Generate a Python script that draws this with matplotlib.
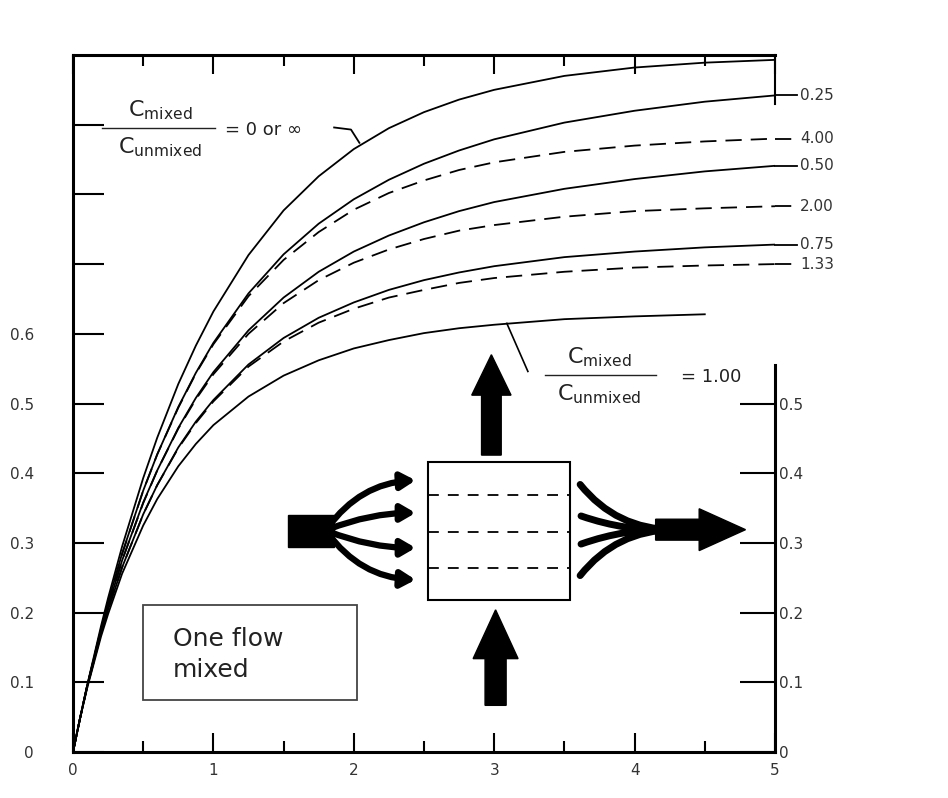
import numpy as np
import matplotlib.pyplot as plt
from matplotlib.patches import Rectangle, FancyArrow, FancyArrowPatch

# NTU values along x, effectiveness for each curve
ntu = [0, 0.05, 0.1, 0.2, 0.25, 0.35, 0.5, 0.6, 0.75, 0.875, 1.0, 1.25, 1.5, 1.75,
       2.0, 2.25, 2.5, 2.75, 3.0, 3.5, 4.0, 4.5, 5.0]
eff_0 = [0, 0.049, 0.095, 0.181, 0.221, 0.295, 0.393, 0.451, 0.528, 0.583, 0.632, 0.713,
         0.777, 0.826, 0.865, 0.895, 0.918, 0.936, 0.950, 0.970, 0.982, 0.989, 0.993]
eff_025 = [0, 0.048, 0.094, 0.177, 0.215, 0.285, 0.375, 0.427, 0.495, 0.544, 0.587, 0.658,
           0.714, 0.758, 0.793, 0.821, 0.844, 0.863, 0.879, 0.903, 0.920, 0.933, 0.942]
eff_400 = [0, 0.048, 0.094, 0.177, 0.215, 0.284, 0.375, 0.427, 0.494, 0.543, 0.585, 0.654,
           0.706, 0.746, 0.778, 0.802, 0.820, 0.835, 0.846, 0.861, 0.870, 0.876, 0.880]
eff_050 = [0, 0.048, 0.094, 0.173, 0.209, 0.275, 0.358, 0.404, 0.465, 0.508, 0.545, 0.605,
           0.652, 0.689, 0.718, 0.741, 0.760, 0.776, 0.789, 0.808, 0.822, 0.833, 0.841]
eff_200 = [0, 0.048, 0.094, 0.173, 0.209, 0.275, 0.357, 0.404, 0.464, 0.506, 0.542, 0.600,
           0.644, 0.677, 0.702, 0.721, 0.736, 0.748, 0.756, 0.768, 0.776, 0.780, 0.783]
eff_075 = [0, 0.048, 0.093, 0.170, 0.204, 0.265, 0.341, 0.383, 0.437, 0.474, 0.505, 0.556,
           0.594, 0.623, 0.645, 0.663, 0.677, 0.688, 0.697, 0.710, 0.718, 0.724, 0.728]
eff_133 = [0, 0.048, 0.092, 0.170, 0.204, 0.265, 0.341, 0.383, 0.436, 0.472, 0.503, 0.553,
           0.589, 0.616, 0.636, 0.652, 0.663, 0.673, 0.680, 0.689, 0.695, 0.698, 0.700]
ntu_100 = ntu[:-1]
eff_100 = [0, 0.048, 0.091, 0.166, 0.198, 0.256, 0.325, 0.363, 0.410, 0.442, 0.469, 0.510,
           0.540, 0.562, 0.579, 0.591, 0.601, 0.608, 0.613, 0.621, 0.625, 0.628]

right_labels = ['0.25', '4.00', '0.50', '2.00', '0.75', '1.33']
right_curves = [eff_025, eff_400, eff_050, eff_200, eff_075, eff_133]
dashed = [False, True, False, True, False, True]

left_ticks = [0, 0.1, 0.2, 0.3, 0.4, 0.5, 0.6, 0.7, 0.8, 0.9]
left_labels = ['0', '0.1', '0.2', '0.3', '0.4', '0.5', '0.6', '', '', '']
right_ticks = [0, 0.1, 0.2, 0.3, 0.4, 0.5]
right_tick_labels = ['0', '0.1', '0.2', '0.3', '0.4', '0.5']

fig = plt.figure(figsize=(9.48, 7.98), dpi=100)
ax = fig.add_axes([0.077, 0.0576, 0.7405, 0.8735])
ax.set_xlim(0, 5)
ax.set_ylim(0, 1.0)

lw_c = 1.3
ax.plot(ntu, eff_0, color='black', lw=lw_c)
for vals, lab, dsh in zip(right_curves, right_labels, dashed):
    ls = (0, (9, 5)) if dsh else '-'
    ax.plot(ntu, vals, color='black', lw=lw_c, ls=ls)
    ax.plot([ntu[-1], 5.16], [vals[-1], vals[-1]], color='black', lw=lw_c, ls=ls, clip_on=False)
    ax.text(5.18, vals[-1], lab, ha='left', va='center', fontsize=11, color='#333333')
ax.plot(ntu_100, eff_100, color='black', lw=lw_c)

# spines and ticks
for s in ['left', 'bottom', 'top']:
    ax.spines[s].set_linewidth(2.2)
ax.spines['right'].set_visible(False)
ax.plot([5, 5], [0.93, 1.0], color='black', lw=1.5, clip_on=False)

ax.set_xticks([0, 1, 2, 3, 4, 5])
ax.set_xticklabels(['0', '1', '2', '3', '4', '5'], fontsize=11, color='#333333')
ax.set_xticks(np.arange(0.5, 5, 1.0), minor=True)
ax.tick_params(axis='x', which='major', direction='in', length=14, width=1.5, top=True, pad=8)
ax.tick_params(axis='x', which='minor', direction='in', length=8, width=1.5, top=True)
ax.set_yticks(left_ticks)
ax.set_yticklabels(left_labels, fontsize=11, color='#333333')
ax.tick_params(axis='y', direction='in', length=22, width=1.5, pad=28)

ax2 = ax.twinx()
ax2.set_ylim(0, 1.0)
for s in ['left', 'bottom', 'top']:
    ax2.spines[s].set_visible(False)
ax2.spines['right'].set_linewidth(2.2)
ax2.spines['right'].set_bounds(0, 0.555)
ax2.set_yticks(right_ticks)
ax2.set_yticklabels(right_tick_labels, fontsize=11, color='#333333')
ax2.tick_params(axis='y', direction='in', length=25, width=1.5, pad=3)


def ratio_label(xc, yc, x0, x1, rest, xr):
    # C_mixed over C_unmixed drawn as a stacked fraction
    ax.text(xc, yc + 0.026, r'$\mathrm{C}_{\mathrm{mixed}}$', fontsize=16, ha='center', va='center', color='#222222')
    ax.text(xc, yc - 0.027, r'$\mathrm{C}_{\mathrm{unmixed}}$', fontsize=16, ha='center', va='center', color='#222222')
    ax.plot([x0, x1], [yc, yc], color='#222222', lw=1.0)
    ax.text(xr, yc - 0.003, rest, fontsize=13, ha='left', va='center', color='#222222')


ratio_label(0.62, 0.895, 0.21, 1.01, '= 0 or ∞', 1.08)
ax.plot([1.86, 1.98, 2.04], [0.896, 0.893, 0.874], color='black', lw=1.3)
ratio_label(3.75, 0.541, 3.36, 4.15, '= 1.00', 4.33)
ax.plot([3.09, 3.24], [0.615, 0.546], color='black', lw=1.2)

# "One flow mixed" box
ax.add_patch(Rectangle((0.5, 0.075), 1.52, 0.136, fill=False, ec='#444444', lw=1.3))
ax.text(0.71, 0.14, 'One flow\nmixed', fontsize=18, ha='left', va='center',
        color='#222222', linespacing=1.4)

# exchanger sketch
ax.add_patch(Rectangle((2.53, 0.218), 1.01, 0.198, fill=False, ec='black', lw=1.5))
for yy in [0.369, 0.316, 0.264]:
    ax.plot([2.53, 3.54], [yy, yy], color='black', lw=1.3, ls=(0, (6, 5)))

ax.add_patch(FancyArrow(2.98, 0.426, 0, 0.144, width=0.14, head_width=0.28,
                        head_length=0.058, length_includes_head=True, color='black'))
ax.add_patch(FancyArrow(3.01, 0.067, 0, 0.137, width=0.15, head_width=0.32,
                        head_length=0.07, length_includes_head=True, color='black'))

# inlet fan (left)
ax.add_patch(Rectangle((1.53, 0.294), 0.33, 0.046, color='black'))
fan_in_y = [0.390, 0.343, 0.293, 0.247]
fan_rad = [-0.25, -0.1, 0.1, 0.25]
for yy, rr in zip(fan_in_y, fan_rad):
    ax.add_patch(FancyArrowPatch((1.8, 0.318), (2.46, yy),
                                 connectionstyle='arc3,rad=%s' % rr,
                                 arrowstyle='-|>,head_length=0.6,head_width=0.35',
                                 mutation_scale=14, lw=4.5, color='black'))

# outlet fan (right)
fan_out_y = [0.387, 0.340, 0.297, 0.25]
fan_rad2 = [0.25, 0.1, -0.1, -0.25]
for yy, rr in zip(fan_out_y, fan_rad2):
    ax.add_patch(FancyArrowPatch((3.6, yy), (4.3, 0.319),
                                 connectionstyle='arc3,rad=%s' % rr,
                                 arrowstyle='-', lw=5, color='black'))
ax.add_patch(FancyArrow(4.15, 0.319, 0.64, 0, width=0.03, head_width=0.06,
                        head_length=0.33, length_includes_head=True, color='black'))

fig.savefig('out.png', dpi=100)
